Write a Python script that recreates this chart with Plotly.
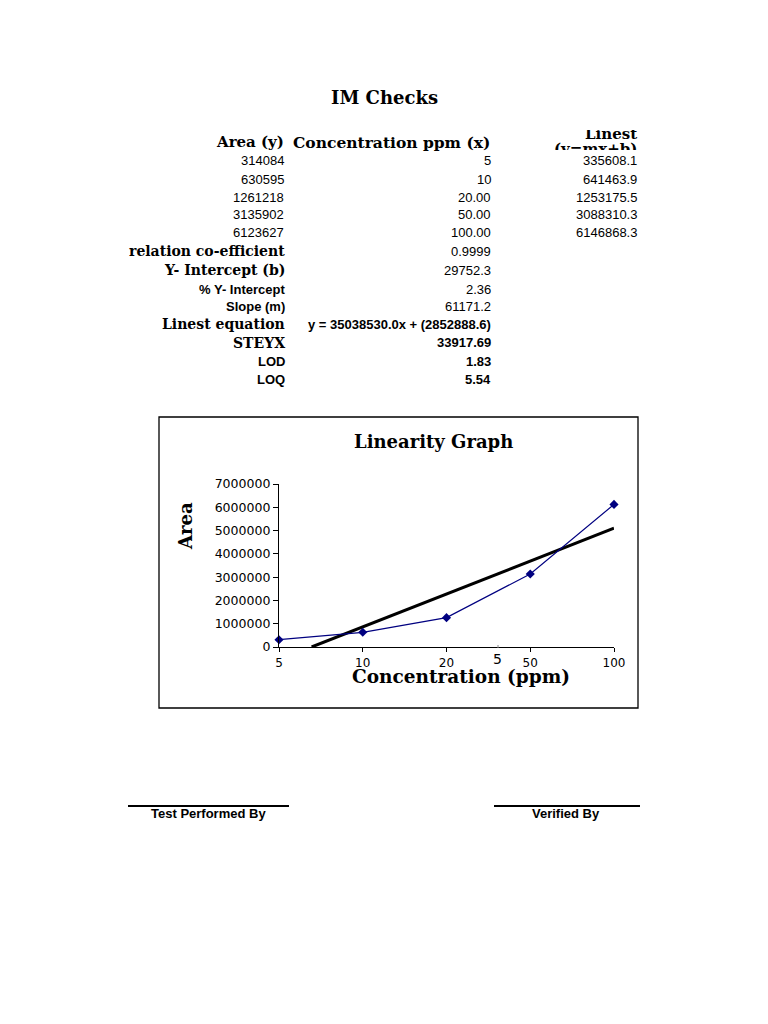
import plotly.graph_objects as go

# ---------------- data ----------------
conc_labels = ["5", "10", "20", "50", "100"]
area = [314084, 630595, 1261218, 3135902, 6123627]
conc_text = ["5", "10", "20.00", "50.00", "100.00"]
linest_vals = ["335608.1", "641463.9", "1253175.5", "3088310.3", "6146868.3"]
stat_labels = ["relation co-efficient", "Y- Intercept (b)", "% Y- Intercept", "Slope (m)",
               "Linest equation", "STEYX", "LOD", "LOQ"]
stat_values = ["0.9999", "29752.3", "2.36", "61171.2",
               "y = 35038530.0x + (2852888.6)", "33917.69", "1.83", "5.54"]
# trendline as drawn in the picture (per category step)
trend_slope = 1412439.0
trend_intercept = -1962197.0
y_ticks = [0, 1000000, 2000000, 3000000, 4000000, 5000000, 6000000, 7000000]

# figure sits inside the page body's 8px margin
OFF = 8
W, H = 752, 1000
def px(x): return (x - OFF) / W
def py(y): return 1 - (y - OFF) / H

SERIF = "DejaVu Serif"
SANS = "Liberation Sans"

idx = list(range(1, len(conc_labels) + 1))
x0 = -trend_intercept / trend_slope
x1 = idx[-1]

fig = go.Figure()
fig.add_trace(go.Scatter(x=[x0, x1], y=[trend_slope * x0 + trend_intercept, trend_slope * x1 + trend_intercept],
                         mode="lines", line=dict(color="black", width=3), cliponaxis=False, showlegend=False))
fig.add_trace(go.Scatter(x=idx, y=area, mode="lines+markers",
                         line=dict(color="#000080", width=1.2),
                         marker=dict(symbol="diamond", size=7, color="#000080"),
                         cliponaxis=False, showlegend=False))

ann = []
def text(x, y, s, size=13, family=SANS, bold=False, anchor="right", color="black", angle=0):
    # right-anchored texts: compensate the annotation box padding
    xx = x + 2 if anchor == "right" else x
    ann.append(dict(x=px(xx), y=py(y), xref="paper", yref="paper", text=(f"<b>{s}</b>" if bold else s),
                    showarrow=False, xanchor=anchor, yanchor="middle", textangle=angle,
                    font=dict(family=family, size=size, color=color)))

def mask(x, y, w, h):
    ann.append(dict(x=px(x), y=py(y), xref="paper", yref="paper", text=" ", showarrow=False,
                    width=w, height=h, bgcolor="white", borderpad=0, borderwidth=0,
                    xanchor="center", yanchor="middle", font=dict(size=1)))

text(384, 98, "IM Checks", size=18, family=SERIF, bold=True, anchor="center")
text(284, 142, "Area (y)", size=15, family=SERIF, bold=True)
text(490, 142, "Concentration ppm (x)", size=15.5, family=SERIF, bold=True)
text(637, 134, "Linest", size=15, family=SERIF, bold=True)
text(637, 149, "(y=mx+b)", size=15, family=SERIF, bold=True)
# masks clipping the Linest header cell
mask(600, 114.5, 110, 30)
mask(600, 155.5, 110, 11)

rows_y = [160, 179, 197, 215, 233]
for ry, a, c, l in zip(rows_y, area, conc_text, linest_vals):
    text(284, ry, str(a))
    text(491, ry, c)
    text(637, ry, l)

stat_y = [251, 270, 289, 307, 324, 343, 361, 379]
stat_style = [("serif", 14), ("serif", 14), ("sansb", 13), ("sansb", 13),
              ("serif", 14), ("serif", 14), ("sansb", 13), ("sansb", 13)]
for (st, sz), sy, lab in zip(stat_style, stat_y, stat_labels):
    if st == "serif":
        text(285, sy, lab, size=sz, family=SERIF, bold=True)
    else:
        text(285, sy, lab, size=sz, family=SANS, bold=True)
for i, (sy, val) in enumerate(zip(stat_y, stat_values)):
    if i < 4:
        text(491, sy, val, size=13)
    else:
        text(491, sy, val, size=13, bold=True)

# chart texts
text(433, 441, "Linearity Graph", size=18, family=SERIF, bold=True, anchor="center")
text(185, 526, "Area", size=18, family=SERIF, bold=True, anchor="center", angle=-90)
text(461, 676, "Concentration (ppm)", size=18.5, family=SERIF, bold=True, anchor="center")
text(497, 659, "5", size=14, family="DejaVu Sans", anchor="center")

# signatures
text(208, 813, "Test Performed By", size=13, bold=True, anchor="center")
text(566, 813, "Verified By", size=13, bold=True, anchor="center")

shapes = [
    dict(type="rect", xref="paper", yref="paper", x0=px(159), x1=px(638), y0=py(417), y1=py(708),
         line=dict(color="black", width=1.3)),
    dict(type="line", xref="paper", yref="paper", x0=px(128), x1=px(289), y0=py(806), y1=py(806),
         line=dict(color="black", width=2)),
    dict(type="line", xref="paper", yref="paper", x0=px(494), x1=px(640), y0=py(806), y1=py(806),
         line=dict(color="black", width=2)),
    dict(type="line", xref="paper", yref="paper", x0=px(498), x1=px(498), y0=py(645), y1=py(648),
         line=dict(color="#888888", width=1)),
]

fig.update_layout(
    template="none",
    width=W, height=H, margin=dict(l=0, r=0, t=0, b=0, pad=0, autoexpand=False),
    paper_bgcolor="white", plot_bgcolor="white",
    annotations=ann, shapes=shapes,
    xaxis=dict(domain=[px(279), px(614)], range=[1, 5], tickvals=idx, ticktext=conc_labels,
               showline=True, linecolor="black", linewidth=1.3, ticks="outside", ticklen=4,
               tickcolor="black", showgrid=False, zeroline=False, automargin=False,
               tickfont=dict(family="DejaVu Sans", size=12, color="black"), fixedrange=True),
    yaxis=dict(domain=[py(647), py(484)], range=[0, 7000000], tickvals=y_ticks,
               ticktext=[str(v) for v in y_ticks],
               showline=True, linecolor="black", linewidth=1.3, ticks="outside", ticklen=5,
               tickcolor="black", showgrid=False, zeroline=False, automargin=False,
               tickfont=dict(family="DejaVu Sans", size=12.5, color="black"), fixedrange=True),
)

fig.write_html("out.html")
